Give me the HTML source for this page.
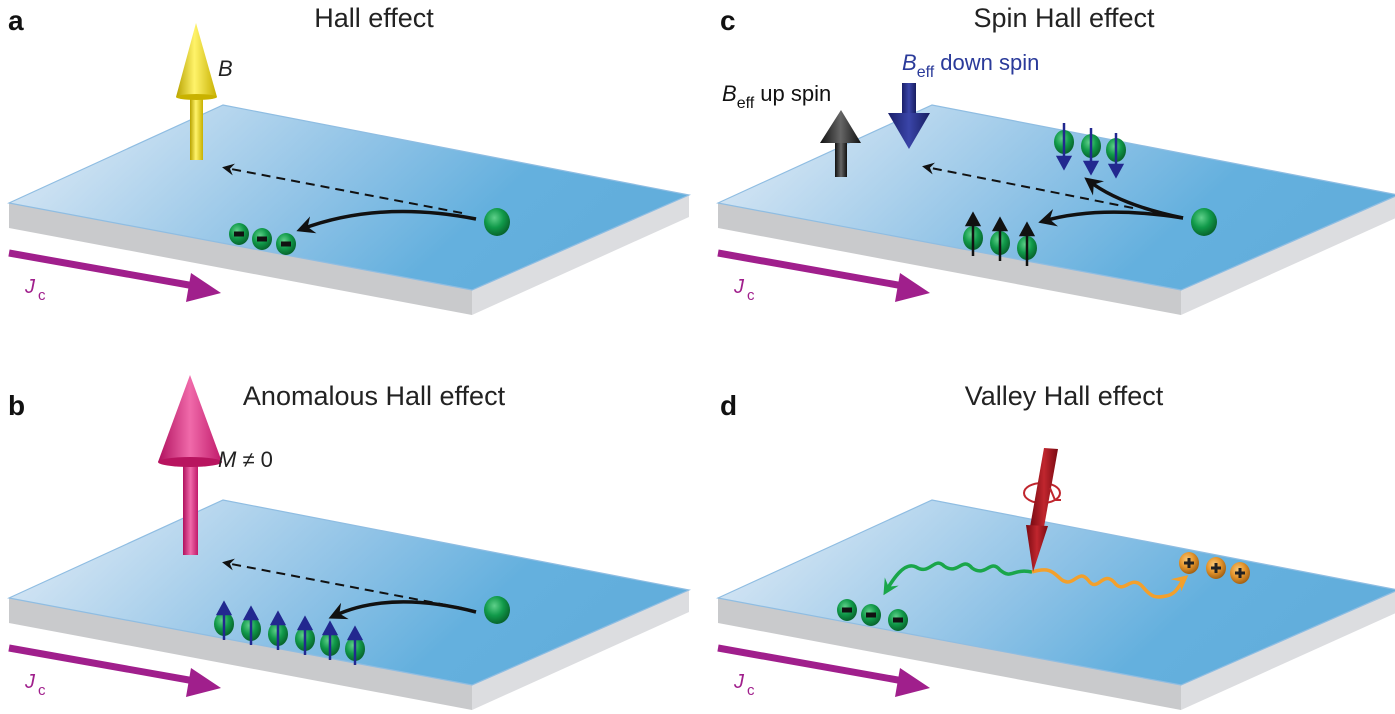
<!DOCTYPE html>
<html><head><meta charset="utf-8"><style>
html,body{margin:0;padding:0;background:#fff}
svg{display:block}
text{font-family:"Liberation Sans",sans-serif}
</style></head><body>
<svg width="1395" height="714" viewBox="0 0 1395 714" xmlns="http://www.w3.org/2000/svg">
<defs>
<linearGradient id="top" x1="0" y1="0" x2="1" y2="0.3">
<stop offset="0" stop-color="#e6eef7"/><stop offset="0.55" stop-color="#8ec2e6"/><stop offset="0.8" stop-color="#64b0de"/><stop offset="1" stop-color="#62aedc"/></linearGradient>
<radialGradient id="gb" cx="0.4" cy="0.35" r="0.7"><stop offset="0" stop-color="#5fd08a"/><stop offset="0.5" stop-color="#119a4a"/><stop offset="1" stop-color="#065d28"/></radialGradient>
<radialGradient id="ob" cx="0.4" cy="0.35" r="0.7"><stop offset="0" stop-color="#f8c97a"/><stop offset="0.5" stop-color="#e5952c"/><stop offset="1" stop-color="#9a5a10"/></radialGradient>
<linearGradient id="yel" x1="0" x2="1"><stop offset="0" stop-color="#b8a200"/><stop offset="0.45" stop-color="#fff36a"/><stop offset="1" stop-color="#c7b000"/></linearGradient>
<linearGradient id="mag" x1="0" x2="1"><stop offset="0" stop-color="#b0105e"/><stop offset="0.5" stop-color="#f06aaa"/><stop offset="1" stop-color="#c01a6a"/></linearGradient>
<linearGradient id="blk" x1="0" x2="1"><stop offset="0" stop-color="#111"/><stop offset="0.5" stop-color="#666"/><stop offset="1" stop-color="#111"/></linearGradient>
<linearGradient id="blu" x1="0" x2="1"><stop offset="0" stop-color="#1a1f6a"/><stop offset="0.5" stop-color="#3a45a8"/><stop offset="1" stop-color="#181d60"/></linearGradient>
<linearGradient id="red" x1="0" x2="1"><stop offset="0" stop-color="#7a0a12"/><stop offset="0.5" stop-color="#c0262e"/><stop offset="1" stop-color="#7a0a12"/></linearGradient>
<marker id="ah" markerWidth="12" markerHeight="12" refX="8" refY="6" orient="auto" markerUnits="userSpaceOnUse" viewBox="0 0 12 12"><path d="M0 0 L12 6 L0 12 L4 6 Z" fill="#111"/></marker>
<marker id="ahb" markerWidth="18" markerHeight="18" refX="12" refY="9" orient="auto" markerUnits="userSpaceOnUse" viewBox="0 0 18 18"><path d="M0 0 L18 9 L0 18 L6 9 Z" fill="#111"/></marker>
<marker id="ahg" markerWidth="16" markerHeight="16" refX="11" refY="8" orient="auto" markerUnits="userSpaceOnUse" viewBox="0 0 16 16"><path d="M0 0 L16 8 L0 16 L6 8 Z" fill="#1aa64a"/></marker>
<marker id="aho" markerWidth="16" markerHeight="16" refX="13" refY="8" orient="auto" markerUnits="userSpaceOnUse" viewBox="0 0 16 16"><path d="M0 0 L16 8 L0 16 L6 8 Z" fill="#f3a02c"/></marker>
<g id="slab">
<polygon points="9,203 472,290 472,315 9,228" fill="#c9cacc"/>
<polygon points="472,290 689,195 689,217 472,315" fill="#dcdde0"/>
<polygon points="9,203 223,105 689,195 472,290" fill="url(#top)" stroke="#8fbde2" stroke-width="1.2"/>
</g>
<g id="jc">
<line x1="9" y1="253" x2="200" y2="287" stroke="#a01f8c" stroke-width="7"/>
<polygon points="221,293 186,302 191,273" fill="#a01f8c"/>
<text x="25" y="293" font-size="20" fill="#a01f8c" font-style="italic">J</text>
<text x="38" y="300" font-size="15" fill="#a01f8c">c</text>
</g>
<g id="ball"><ellipse cx="0" cy="0" rx="13" ry="14" fill="url(#gb)"/></g>
<g id="sb"><ellipse cx="0" cy="0" rx="10" ry="12" fill="url(#gb)"/></g>
<g id="neg"><ellipse cx="0" cy="0" rx="10" ry="11" fill="url(#gb)"/><rect x="-5" y="-2.5" width="10" height="5" fill="#111"/></g>
<g id="pos"><ellipse cx="0" cy="0" rx="10" ry="11" fill="url(#ob)"/><rect x="-5" y="-1.5" width="10" height="3" fill="#222"/><rect x="-1.5" y="-5" width="3" height="10" fill="#222"/></g>
</defs>

<!-- Panel a -->
<use href="#slab"/>
<use href="#jc"/>
<text x="8" y="30" font-size="28" font-weight="bold" fill="#111">a</text>
<text x="374" y="27" font-size="27" fill="#222" text-anchor="middle">Hall effect</text>
<rect x="190" y="95" width="13" height="65" fill="url(#yel)"/>
<polygon points="196,23 176,97 217,97" fill="url(#yel)"/>
<ellipse cx="196.5" cy="97" rx="20.5" ry="3" fill="#c9b200"/>
<text x="218" y="76" font-size="22" font-style="italic" fill="#222">B</text>
<line x1="462" y1="213" x2="226" y2="168" stroke="#111" stroke-width="2" stroke-dasharray="9,6" marker-end="url(#ah)"/>
<path d="M476 219 Q380 200 302 229" fill="none" stroke="#111" stroke-width="3.5" marker-end="url(#ahb)"/>
<use href="#ball" x="497" y="222"/>
<use href="#neg" x="239" y="234"/><use href="#neg" x="262" y="239"/><use href="#neg" x="286" y="244"/>

<!-- Panel b -->
<g transform="translate(0,395)">
<use href="#slab"/>
<use href="#jc"/>
<rect x="183" y="65" width="15" height="95" fill="url(#mag)"/>
<polygon points="190,-20 158,67 222,67" fill="url(#mag)"/>
<ellipse cx="190" cy="67" rx="32" ry="5" fill="#b8145f"/>
<text x="218" y="72" font-size="22" fill="#222"><tspan font-style="italic">M</tspan> ≠ 0</text>
<line x1="462" y1="213" x2="226" y2="168" stroke="#111" stroke-width="2" stroke-dasharray="9,6" marker-end="url(#ah)"/>
<path d="M476 217 Q390 195 334 221" fill="none" stroke="#111" stroke-width="3.5" marker-end="url(#ahb)"/>
<use href="#ball" x="497" y="215"/>
<g>
<use href="#sb" x="224" y="229"/><use href="#sb" x="251" y="234"/><use href="#sb" x="278" y="239"/><use href="#sb" x="305" y="244"/><use href="#sb" x="330" y="249"/><use href="#sb" x="355" y="254"/>
</g>
<g stroke="#22288f" stroke-width="2.5" fill="#22288f">
<line x1="224" y1="245" x2="224" y2="216"/><polygon points="224,208 218,219 230,219"/>
<line x1="251" y1="250" x2="251" y2="221"/><polygon points="251,213 245,224 257,224"/>
<line x1="278" y1="255" x2="278" y2="226"/><polygon points="278,218 272,229 284,229"/>
<line x1="305" y1="260" x2="305" y2="231"/><polygon points="305,223 299,234 311,234"/>
<line x1="330" y1="265" x2="330" y2="236"/><polygon points="330,228 324,239 336,239"/>
<line x1="355" y1="270" x2="355" y2="241"/><polygon points="355,233 349,244 361,244"/>
</g>
</g>
<text x="8" y="415" font-size="28" font-weight="bold" fill="#111">b</text>
<text x="374" y="405" font-size="27" fill="#222" text-anchor="middle">Anomalous Hall effect</text>

<!-- Panel c -->
<g transform="translate(709,0)"><use href="#slab"/><use href="#jc"/></g>
<text x="720" y="30" font-size="28" font-weight="bold" fill="#111">c</text>
<text x="1064" y="27" font-size="27" fill="#222" text-anchor="middle">Spin Hall effect</text>
<text x="902" y="70" font-size="22" fill="#2a3a9a"><tspan font-style="italic">B</tspan><tspan font-size="16" dy="7">eff</tspan><tspan dy="-7"> down spin</tspan></text>
<text x="722" y="101" font-size="22" fill="#111"><tspan font-style="italic">B</tspan><tspan font-size="16" dy="7">eff</tspan><tspan dy="-7"> up spin</tspan></text>
<rect x="835" y="140" width="12" height="37" fill="url(#blk)"/>
<polygon points="841,110 820,143 861,143" fill="url(#blk)"/>
<rect x="902" y="83" width="14" height="32" fill="url(#blu)"/>
<polygon points="909,149 888,113 930,113" fill="url(#blu)"/>
<line x1="1133" y1="208" x2="926" y2="167" stroke="#111" stroke-width="2" stroke-dasharray="9,6" marker-end="url(#ah)"/>
<path d="M1183 218 Q1120 205 1089 181" fill="none" stroke="#111" stroke-width="3.5" marker-end="url(#ahb)"/>
<path d="M1183 218 Q1100 205 1044 221" fill="none" stroke="#111" stroke-width="3.5" marker-end="url(#ahb)"/>
<use href="#ball" x="1204" y="222"/>
<use href="#sb" x="1064" y="142"/><use href="#sb" x="1091" y="146"/><use href="#sb" x="1116" y="150"/>
<g stroke="#22288f" stroke-width="2.5" fill="#22288f">
<line x1="1064" y1="123" x2="1064" y2="160"/><polygon points="1064,168 1058,157 1070,157"/>
<line x1="1091" y1="128" x2="1091" y2="165"/><polygon points="1091,173 1085,162 1097,162"/>
<line x1="1116" y1="133" x2="1116" y2="168"/><polygon points="1116,176 1110,165 1122,165"/>
</g>
<use href="#sb" x="973" y="238"/><use href="#sb" x="1000" y="243"/><use href="#sb" x="1027" y="248"/>
<g stroke="#111" stroke-width="2.5" fill="#111">
<line x1="973" y1="256" x2="973" y2="222"/><polygon points="973,214 967,225 979,225"/>
<line x1="1000" y1="261" x2="1000" y2="227"/><polygon points="1000,219 994,230 1006,230"/>
<line x1="1027" y1="266" x2="1027" y2="232"/><polygon points="1027,224 1021,235 1033,235"/>
</g>

<!-- Panel d -->
<g transform="translate(709,395)"><use href="#slab"/><use href="#jc"/></g>
<text x="720" y="415" font-size="28" font-weight="bold" fill="#111">d</text>
<text x="1064" y="405" font-size="27" fill="#222" text-anchor="middle">Valley Hall effect</text>
<path d="M1032 572 c-20 -4 -20 8 -32 -2 c-10 -12 -14 8 -28 -2 c-10 -12 -14 8 -28 -2 c-10 -10 -14 10 -28 1 c-12 -6 -24 14 -30 24" fill="none" stroke="#1aa64a" stroke-width="3.5" marker-end="url(#ahg)"/>
<path d="M1032 572 c20 -6 22 2 30 8 c12 8 16 -12 26 0 c10 14 14 -10 26 2 c10 14 16 -8 28 4 c10 12 14 12 24 10 c12 -2 14 -14 20 -19" fill="none" stroke="#f3a02c" stroke-width="3.5" marker-end="url(#aho)"/>
<ellipse cx="1042" cy="493" rx="18" ry="10" fill="none" stroke="#c0262e" stroke-width="2"/>
<polygon points="1044,448 1058,449 1044,527 1033,570 1030,527" fill="url(#red)"/>
<polygon points="1026,525 1048,526 1033,572" fill="url(#red)"/>
<path d="M1050 488 l5 12 l6 0" fill="none" stroke="#c0262e" stroke-width="2"/>
<use href="#neg" x="847" y="610"/><use href="#neg" x="871" y="615"/><use href="#neg" x="898" y="620"/>
<use href="#pos" x="1189" y="563"/><use href="#pos" x="1216" y="568"/><use href="#pos" x="1240" y="573"/>
</svg>
</body></html>
